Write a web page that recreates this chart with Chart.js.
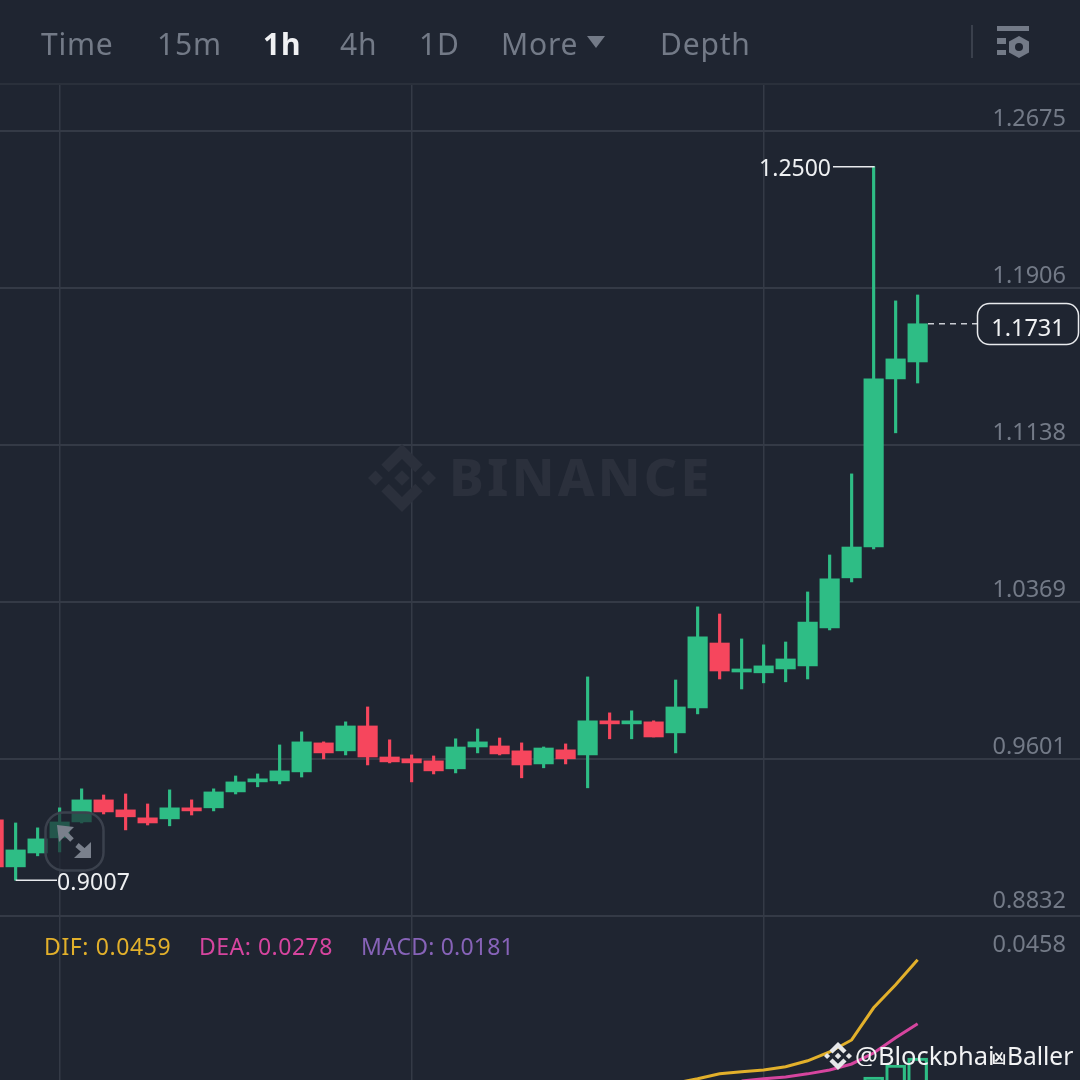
<!DOCTYPE html>
<html>
<head>
<meta charset="utf-8">
<title>1h chart</title>
<script src="https://cdn.jsdelivr.net/npm/chart.js@4"></script>
<style>
html, body { margin: 0; padding: 0; background: #1f2531; }
canvas { display: block; }
</style>
</head>
<body>
<canvas id="chart_canvas" width="1080" height="1080"></canvas>
<script>
// candle values
var slots  = [0,1,2,3,4,5,6,7,8,9,10,11,12,13,14,15,16,17,18,19,20,21,22,23,24,25,26,27,28,29,30,31,32,33,34,35,36,37,38,39,40,41,42];
var opens  = [.9302,.9072,.9140,.9214,.9292,.9400,.9351,.9312,.9307,.9361,.9361,.9439,.9488,.9493,.9537,.9679,.9640,.9762,.9610,.9601,.9591,.9552,.9659,.9664,.9640,.9576,.9645,.9620,.9787,.9772,.9782,.9728,.9850,1.0168,1.0026,1.0022,1.0041,1.0056,1.0242,1.0487,1.0638,1.1461,1.1544];
var highs  = [.9341,.9287,.9263,.9361,.9454,.9424,.9429,.9380,.9449,.9400,.9454,.9517,.9527,.9669,.9733,.9684,.9782,.9855,.9694,.9620,.9615,.9699,.9747,.9703,.9679,.9659,.9674,1.0002,.9826,.9836,.9787,.9987,1.0345,1.0310,1.0188,1.0159,1.0173,1.0418,1.0599,1.0996,1.2500,1.1843,1.1872];
var lows   = [.9047,.9007,.9126,.9145,.9287,.9331,.9253,.9277,.9273,.9326,.9346,.9429,.9464,.9478,.9512,.9601,.9620,.9571,.9581,.9488,.9527,.9532,.9630,.9620,.9508,.9557,.9576,.9459,.9699,.9699,.9708,.9630,.9821,.9992,.9943,.9973,.9978,.9992,1.0232,1.0467,1.0629,1.1197,1.1441];
var closes = [.9072,.9155,.9209,.9292,.9400,.9341,.9317,.9287,.9361,.9346,.9439,.9488,.9503,.9542,.9684,.9630,.9762,.9610,.9586,.9581,.9542,.9659,.9684,.9625,.9571,.9654,.9601,.9787,.9772,.9787,.9708,.9855,1.0198,1.0031,1.0041,1.0056,1.0090,1.0271,1.0482,1.0638,1.1461,1.1559,1.1731];

// macd panel
var macdSlots = [31,32,33,34,35,36,37,38,39,40,41,42];
var difValues = [.0110,.0122,.0136,.0142,.0147,.0156,.0173,.0198,.0232,.0323,.0388,.0459];
var deaValues = [null,null,null,.0116,.0122,.0127,.0136,.0147,.0164,.0195,.0238,.0278];
var histValues = [null,null,null,null,null,null,null,null,null,.0127,.0161,.0181];

var priceTicks = [0.9601,1.0369,1.1138,1.1906,1.2675];
var lowestTick = [0.8832];
var macdTicks = [0.0458];
var gridLevels = [0.8832,0.9601,1.0369,1.1138,1.1906,1.2675];
var gridSlots = [3,19,35];
var tabLabels = ['Time','15m','1h','4h','1D','More','Depth'];
var tabX = [41,157,263,340,419,501,660];
var highLabel = 1.2500, highSlot = 40;
var lowLabel = 0.9007, lowSlot = 1;
var lastPrice = 1.1731;

var BG = '#1f2531', GREEN = '#2ebd85', RED = '#f6465d', GRID = '#343a46', MUTED = '#737a87';
var YELLOW = '#e2b02b', PINK = '#d6459f', PURPLE = '#8763b8';
var FONT = '"Noto Sans", sans-serif';

function candleColor(i) { return closes[i] >= opens[i] ? GREEN : RED; }
function pts(xs, ys) { return xs.map(function(x, i) { return {x: x, y: ys[i]}; }); }
function pairs(a, b) { return slots.map(function(x, i) { return {x: x, y: [a[i], b[i]]}; }); }

function poly(ctx, p) {
	ctx.beginPath();
	for (var i = 0; i < p.length; i++) ctx[i ? 'lineTo' : 'moveTo'](p[i][0], p[i][1]);
	ctx.closePath();
	ctx.fill();
}
function logo(ctx, cx, cy, r, color) {
	var shapes = [
		[[0,-.23],[.23,0],[0,.23],[-.23,0]],
		[[-1,0],[-.78,-.22],[-.56,0],[-.78,.22]],
		[[1,0],[.78,-.22],[.56,0],[.78,.22]],
		[[0,-1],[.61,-.39],[.39,-.17],[0,-.56],[-.39,-.17],[-.61,-.39]],
		[[0,1],[.61,.39],[.39,.17],[0,.56],[-.39,.17],[-.61,.39]]
	];
	ctx.fillStyle = color;
	shapes.forEach(function(s) {
		poly(ctx, s.map(function(p) { return [cx + p[0] * r, cy + p[1] * r]; }));
	});
}
function text(ctx, str, x, y, font, color, align, spacing) {
	ctx.font = font;
	ctx.fillStyle = color;
	ctx.textAlign = align || 'left';
	ctx.textBaseline = 'middle';
	ctx.letterSpacing = spacing || '0px';
	ctx.fillText(str, x, y);
	ctx.letterSpacing = '0px';
}

// label-only axis sitting on the right edge, shares the chart area
function labelAxis(min, max, tickValues, offset) {
	return {
		position: 'right',
		min: min,
		max: max,
		afterBuildTicks: function(scale) {
			scale.ticks = tickValues.map(function(v) { return {value: v}; });
		},
		afterFit: function(scale) { scale.width = 0; },
		ticks: {
			mirror: true,
			padding: -14,
			labelOffset: offset,
			color: MUTED,
			font: {family: '"Noto Sans"', size: 23.5},
			callback: function(v) { return v.toFixed(4); }
		},
		border: {display: false},
		grid: {display: false}
	};
}

var watermarkPlugin = {
	id: 'watermark',
	beforeDatasetsDraw: function(chart) {
		var ctx = chart.ctx, y = chart.scales.y;
		ctx.save();
		// horizontal grid comes from the price scale
		ctx.fillStyle = GRID;
		gridLevels.forEach(function(v) {
			ctx.fillRect(0, Math.round(y.getPixelForValue(v)) - 1, 1080, 2);
		});
		logo(ctx, 402, 478, 34, '#2b303c');
		text(ctx, 'BINANCE', 449, 481, '800 52px ' + FONT, '#2b303c', 'left', '3.2px');
		ctx.restore();
	}
};

var overlayPlugin = {
	id: 'overlay',
	afterDraw: function(chart) {
		var ctx = chart.ctx, x = chart.scales.x, y = chart.scales.y;
		ctx.save();

		// top bar
		ctx.fillStyle = '#2a303b';
		ctx.fillRect(0, 83, 1080, 2);
		tabLabels.forEach(function(t, i) {
			var active = t === '1h';
			text(ctx, t, tabX[i], 46, (active ? '700 ' : '400 ') + '30px ' + FONT, active ? '#f0f1f3' : MUTED, 'left', '.8px');
		});
		ctx.fillStyle = MUTED;
		poly(ctx, [[587,36],[605,36],[596,48]]);
		ctx.fillStyle = '#3a404c';
		ctx.fillRect(971, 25, 2, 33);
		ctx.fillStyle = MUTED;
		ctx.fillRect(997, 26, 32, 5);
		ctx.fillRect(997, 38, 9, 6);
		ctx.fillRect(997, 50, 9, 5);
		poly(ctx, [[1019,36],[1029,41.5],[1029,52.5],[1019,58],[1009,52.5],[1009,41.5]]);
		ctx.fillStyle = BG;
		ctx.beginPath();
		ctx.arc(1019, 47, 4, 0, Math.PI * 2);
		ctx.fill();

		// high and low labels
		var hy = y.getPixelForValue(highLabel), hx = x.getPixelForValue(highSlot);
		var ly = y.getPixelForValue(lowLabel), lx = x.getPixelForValue(lowSlot);
		ctx.strokeStyle = '#e8eaed';
		ctx.lineWidth = 1.5;
		ctx.beginPath();
		ctx.moveTo(hx + 1, hy); ctx.lineTo(833, hy);
		ctx.moveTo(lx, ly); ctx.lineTo(57, ly);
		ctx.stroke();
		text(ctx, highLabel.toFixed(4), 831, hy + 3, '400 23px ' + FONT, '#eef0f2', 'right');
		text(ctx, lowLabel.toFixed(4), 57, ly + 3, '400 23px ' + FONT, '#eef0f2', 'left', '.2px');

		// last price tag
		var py = y.getPixelForValue(lastPrice);
		ctx.strokeStyle = '#c9ccd2';
		ctx.setLineDash([6, 5]);
		ctx.beginPath();
		ctx.moveTo(928, py); ctx.lineTo(977, py);
		ctx.stroke();
		ctx.setLineDash([]);
		ctx.strokeStyle = '#e8eaed';
		ctx.fillStyle = BG;
		ctx.beginPath();
		ctx.roundRect(977.5, 303.5, 101, 41, 12);
		ctx.fill();
		ctx.stroke();
		text(ctx, lastPrice.toFixed(4), 1028, 329, '400 23.5px ' + FONT, '#f0f1f3', 'center');

		// expand button
		ctx.fillStyle = 'rgba(31,37,49,.68)';
		ctx.strokeStyle = '#3b414d';
		ctx.lineWidth = 2.5;
		ctx.beginPath();
		ctx.roundRect(45.5, 812.5, 58, 58, 18);
		ctx.fill();
		ctx.stroke();
		ctx.fillStyle = ctx.strokeStyle = '#7a808c';
		ctx.lineWidth = 5;
		poly(ctx, [[57,825],[74,827],[59,842]]);
		poly(ctx, [[91,858],[74,858],[91,842]]);
		ctx.beginPath();
		ctx.moveTo(64, 832); ctx.lineTo(72, 840);
		ctx.moveTo(77, 845); ctx.lineTo(84, 851);
		ctx.stroke();

		// macd legend
		text(ctx, 'DIF: 0.0459', 44, 948, '400 23px ' + FONT, YELLOW, 'left', '.6px');
		text(ctx, 'DEA: 0.0278', 199, 948, '400 23px ' + FONT, PINK, 'left', '.5px');
		text(ctx, 'MACD: 0.0181', 361, 948, '400 23px ' + FONT, PURPLE, 'left', '.2px');

		// repost mark
		logo(ctx, 838, 1056, 14, '#e6e7e9');
		ctx.beginPath();
		ctx.rect(850, 1035, 230, 31);
		ctx.clip();
		text(ctx, '@Blockphai', 855, 1058, '400 25.5px ' + FONT, '#f2f3f4', 'left');
		text(ctx, '凶', 992, 1058, '700 14px "Noto Sans CJK SC"', '#f2f3f4', 'left');
		text(ctx, 'Baller', 1007, 1058, '400 24.5px ' + FONT, '#f2f3f4', 'left');
		ctx.restore();
	}
};

new Chart(document.getElementById('chart_canvas').getContext('2d'), {
	type: 'bar',
	data: {
		datasets: [
			{type: 'line', data: pts(macdSlots, difValues), yAxisID: 'macd', borderColor: YELLOW, borderWidth: 3, pointRadius: 0, tension: 0},
			{type: 'line', data: pts(macdSlots, deaValues), yAxisID: 'macd', borderColor: PINK, borderWidth: 3, pointRadius: 0, tension: 0},
			{data: pairs(opens, closes), yAxisID: 'y', barThickness: 19.5, borderSkipped: false,
				backgroundColor: slots.map(function(s, i) { return candleColor(i); })},
			{data: pairs(lows, highs), yAxisID: 'y', barThickness: 2.5, borderSkipped: false,
				backgroundColor: slots.map(function(s, i) { return candleColor(i); })},
			{data: pts(macdSlots, histValues), yAxisID: 'macd', barThickness: 20, borderSkipped: false,
				backgroundColor: 'transparent', borderColor: GREEN, borderWidth: 2.5}
		]
	},
	options: {
		responsive: false,
		animation: false,
		events: [],
		layout: {padding: {top: 85, left: 0, right: 0, bottom: 0}},
		datasets: {bar: {grouped: false}},
		plugins: {legend: {display: false}, tooltip: {enabled: false}},
		scales: {
			x: {
				type: 'linear',
				offset: false,
				min: 0.29,
				max: 49.38,
				afterBuildTicks: function(scale) {
					scale.ticks = gridSlots.map(function(v) { return {value: v}; });
				},
				afterFit: function(scale) { scale.height = 0; },
				ticks: {display: false},
				border: {display: false},
				grid: {color: GRID, lineWidth: 1.5, drawTicks: false, offset: false}
			},
			y: labelAxis(0.8029, 1.29, priceTicks, -12),
			yLow: labelAxis(0.8029, 1.29, lowestTick, -15),
			macd: labelAxis(0.01189, 0.2935, macdTicks, -15)
		}
	},
	plugins: [watermarkPlugin, overlayPlugin]
});
</script>
</body>
</html>
